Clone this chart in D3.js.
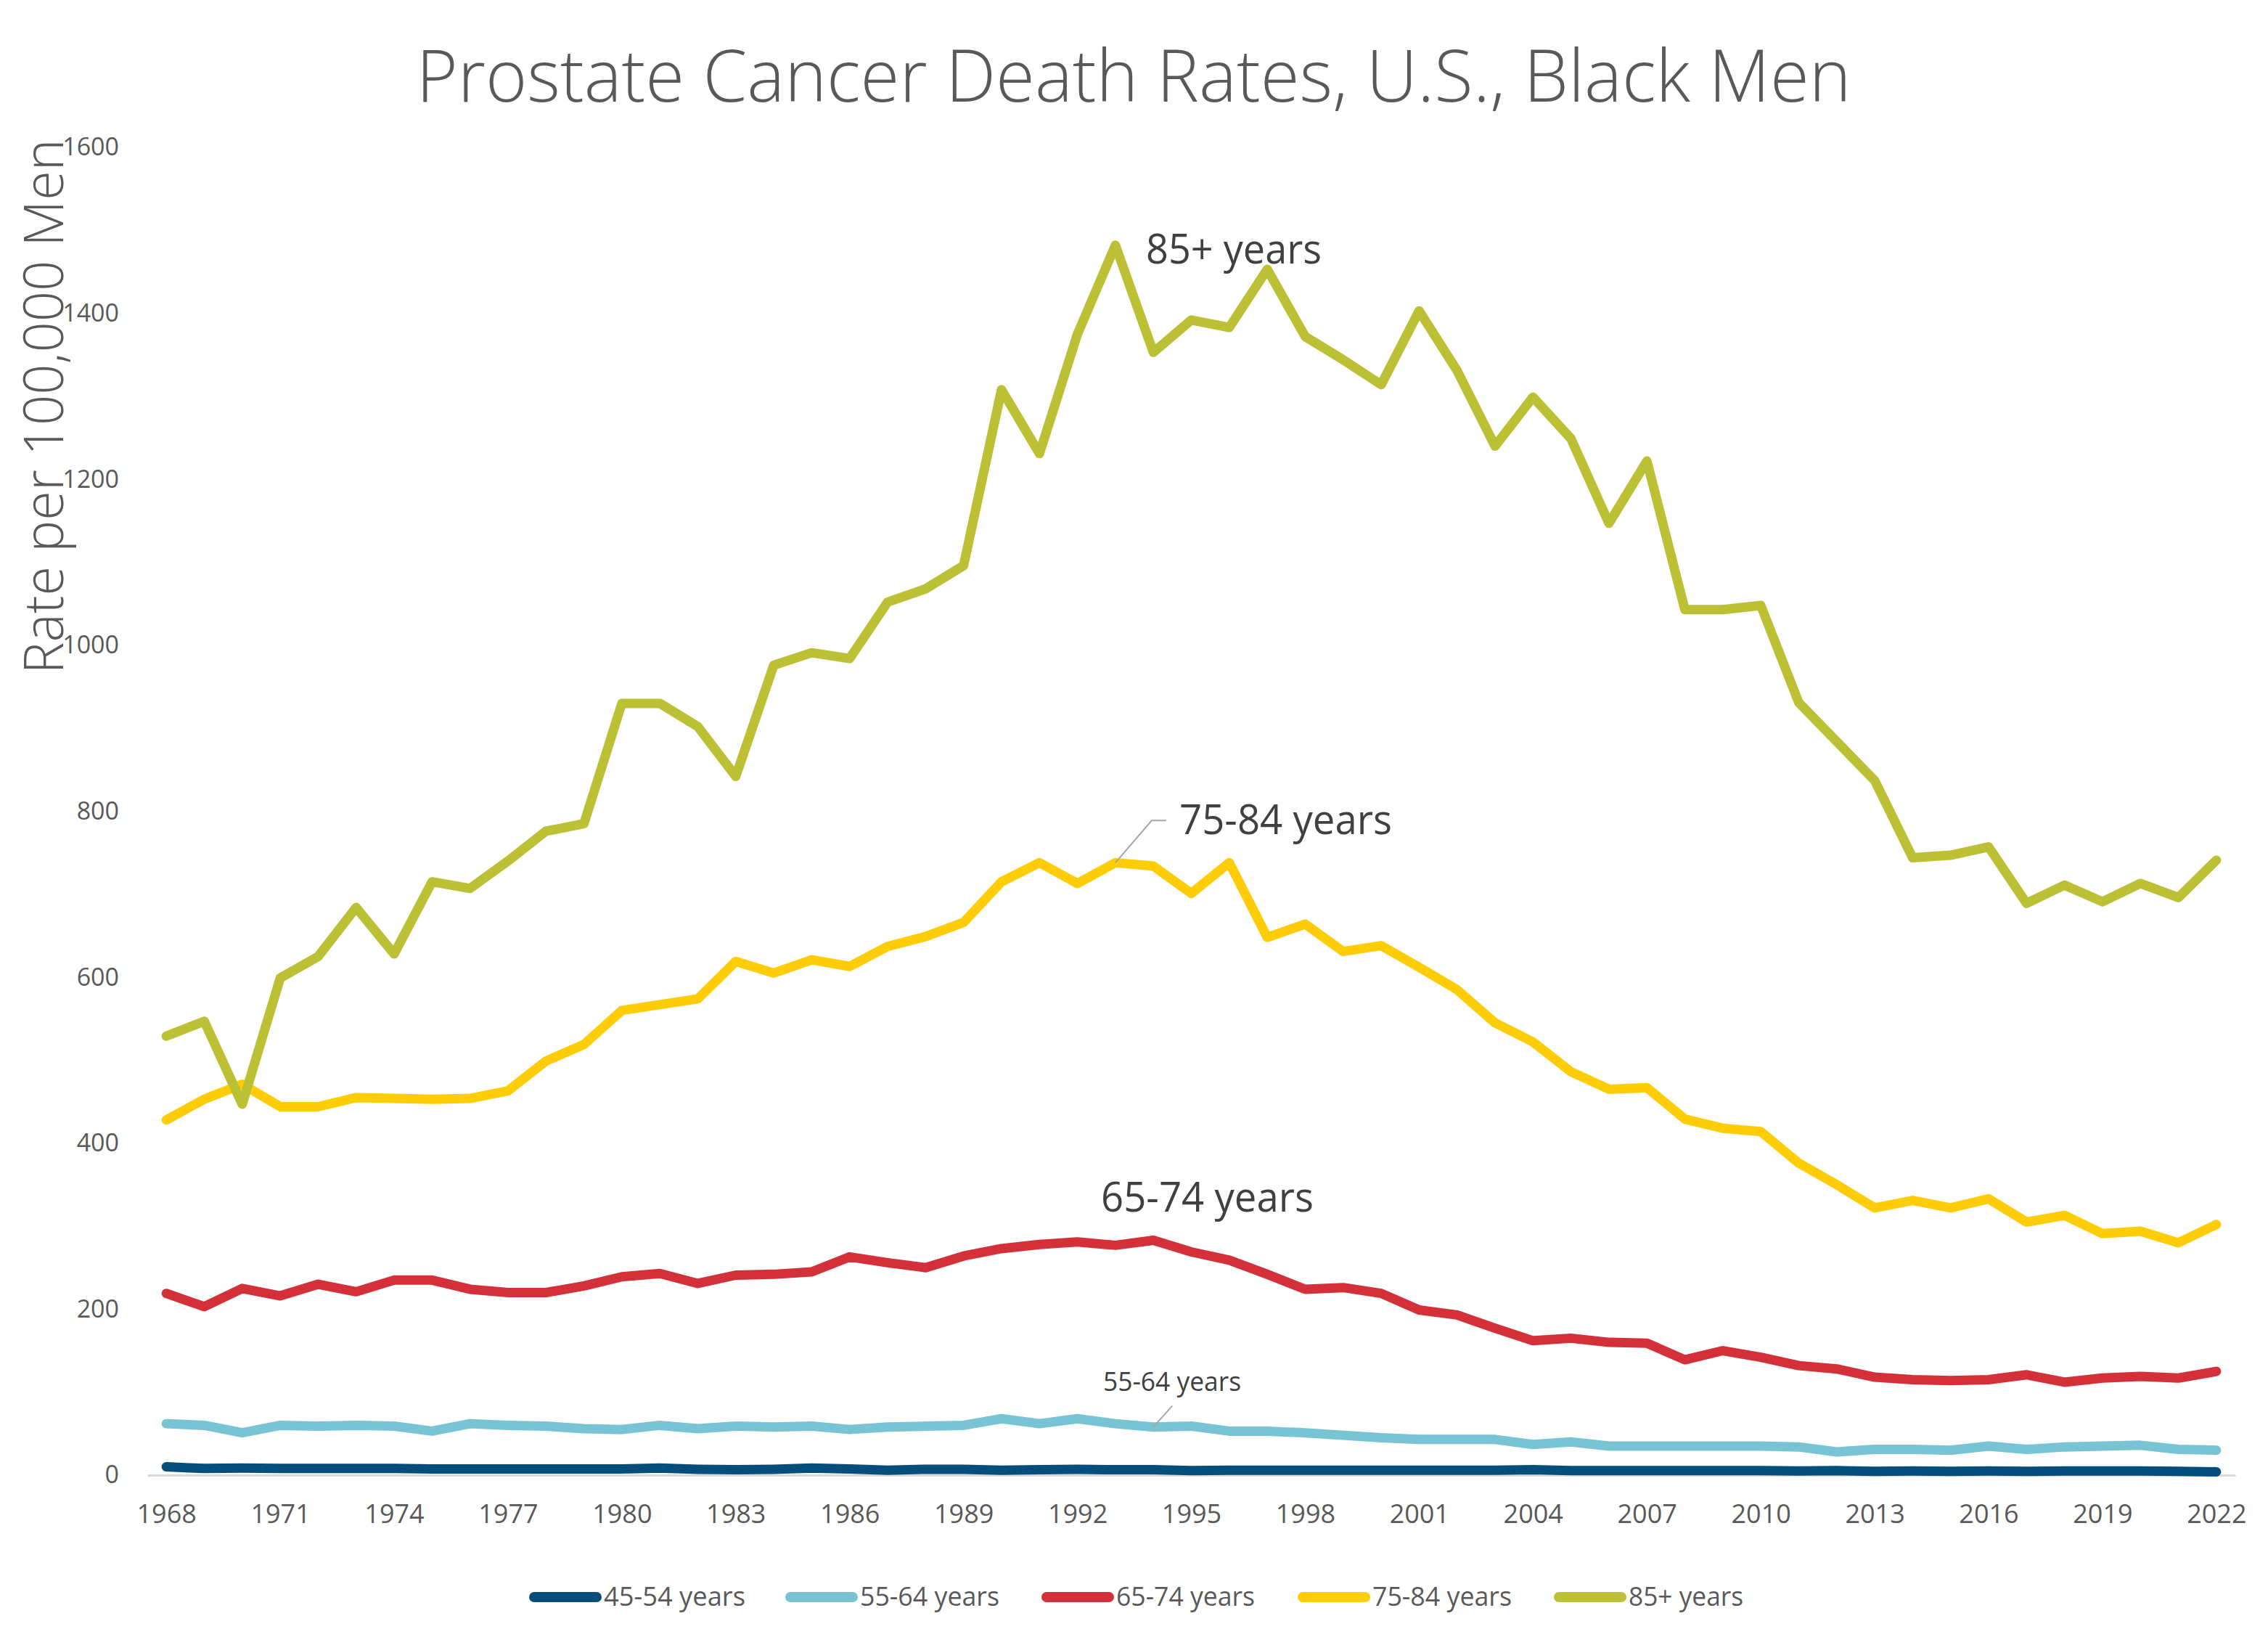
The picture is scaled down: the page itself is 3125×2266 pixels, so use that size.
<!DOCTYPE html>
<html><head><meta charset="utf-8">
<script src="https://cdn.jsdelivr.net/npm/d3@7"></script>
<style>
body{margin:0;background:#fff}
svg{display:block;font-family:"Open Sans","Noto Sans",sans-serif}
</style>
</head><body>
<svg id="chart" width="3125" height="2266"></svg>
<script>
// ---------- DATA ----------
const years = [1968,1969,1970,1971,1972,1973,1974,1975,1976,1977,1978,1979,
  1980,1981,1982,1983,1984,1985,1986,1987,1988,1989,
  1990,1991,1992,1993,1994,1995,1996,1997,1998,1999,
  2000,2001,2002,2003,2004,2005,2006,2007,2008,2009,
  2010,2011,2012,2013,2014,2015,2016,2017,2018,2019,
  2020,2021,2022];
const seriesNames = ["45-54 years","55-64 years","65-74 years","75-84 years","85+ years"];
const age45_54 = [10,8,8.5,8,8,8,8,7.5,7.5,7.5,7.5,7.5,
  7.5,8.5,7,6.5,7,8.5,7.5,6,7,7,
  6,6.5,7,6.5,6.5,5.5,6,6,6,6,
  6,6,6,6,6.5,5.5,5.5,5.5,5.5,5.5,
  5.5,5,5.5,4.5,5,4.5,5,4.5,5,5,
  5,4.5,4];
const age55_64 = [62,60,51,60,59,60,59,53,62,60,59,56,
  55,60,56,59,58,59,55,58,59,60,
  68,62,68,62,58,59,53,53,51,48,
  45,43,43,43,37,40,35,35,35,35,
  35,34,28,31,31,30,35,31,34,35,
  36,31,30];
const age65_74 = [219,203,225,216,230,221,235,235,224,220,220,228,
  239,243,231,241,242,245,263,256,250,264,
  273,278,281,277,283,269,259,242,224,226,
  219,199,193,177,162,165,160,159,139,150,
  142,132,128,118,115,114,115,121,112,117,
  119,117,125];
const age75_84 = [428,453,471,444,444,455,454,453,454,463,499,519,
  560,567,574,619,605,621,613,637,649,666,
  715,738,713,738,734,701,738,648,664,631,
  638,612,585,545,522,486,465,467,429,418,
  414,376,350,322,331,322,333,305,313,291,
  294,280,302];
const age85plus = [529,547,447,599,625,684,628,715,707,740,776,785,
  930,930,902,842,976,991,984,1052,1068,1096,
  1308,1231,1375,1482,1353,1392,1383,1453,1372,1344,
  1314,1403,1331,1240,1299,1249,1147,1222,1043,1043,
  1048,931,884,837,744,747,757,689,711,691,
  713,696,741];
const yTicks = [0,200,400,600,800,1000,1200,1400,1600];
const xTickYears = [1968,1971,1974,1977,1980,1983,1986,1989,1992,1995,1998,2001,2004,2007,2010,2013,2016,2019,2022];
const colors = ["#054E7B","#78C4D5","#D4303A","#FECD08","#BCC034"];
const titleText = "Prostate Cancer Death Rates, U.S., Black Men";
const yLabelText = "Rate per 100,000 Men";

// ---------- CHART ----------
const svg = d3.select("#chart");
const x = d3.scalePoint().domain(years).range([203, 3080]).padding(0.5);
const y = d3.scaleLinear().domain([0, 1600]).range([2032, 203]);
const allSeries = [age45_54, age55_64, age65_74, age75_84, age85plus];

function fit(sel, w){ sel.attr("textLength", w).attr("lengthAdjust", "spacingAndGlyphs"); return sel; }

// title
fit(svg.append("text").attr("x", 1562).attr("y", 140).attr("text-anchor","middle")
  .attr("font-size", 100).attr("font-weight", 300).attr("fill","#595959").text(titleText), 1977);

// y label
fit(svg.append("text").attr("transform","translate(87,560) rotate(-90)").attr("text-anchor","middle")
  .attr("font-size", 75).attr("font-weight", 300).attr("fill","#595959").text(yLabelText), 737);

// y axis
const gy = svg.append("g").attr("transform","translate(175,0)")
  .call(d3.axisLeft(y).tickValues(yTicks).tickSize(0).tickPadding(11).tickFormat(d3.format("d")));
gy.select(".domain").remove();
gy.selectAll("text").attr("font-size", 34).attr("fill","#595959").attr("font-family","'Open Sans',sans-serif");

// x axis
const gx = svg.append("g").attr("transform","translate(0,2032)")
  .call(d3.axisBottom(x).tickValues(xTickYears).tickSize(0).tickPadding(40));
gx.select(".domain").attr("stroke","#d9d9d9").attr("stroke-width",3);
gx.selectAll("text").attr("font-size", 36).attr("fill","#595959").attr("font-family","'Open Sans',sans-serif");

// lines
const line = d3.line().x((d,i) => x(years[i])).y(d => y(d));
allSeries.forEach((s, k) => {
  svg.append("path").datum(s).attr("d", line)
    .attr("fill","none").attr("stroke", colors[k]).attr("stroke-width", 13)
    .attr("stroke-linecap","round").attr("stroke-linejoin","round");
});

// annotations
const annColor = "#404040";
fit(svg.append("text").attr("x",1579).attr("y",363).attr("font-size",56).attr("fill",annColor).text("85+ years"), 242);
fit(svg.append("text").attr("x",1625).attr("y",1149).attr("font-size",56).attr("fill",annColor).text("75-84 years"), 293);
fit(svg.append("text").attr("x",1517).attr("y",1669).attr("font-size",56).attr("fill",annColor).text("65-74 years"), 293);
fit(svg.append("text").attr("x",1520).attr("y",1916).attr("font-size",36).attr("fill",annColor).text("55-64 years"), 190);

// leader lines anchored to data points
const i93 = years.indexOf(1993), i94 = years.indexOf(1994);
const p1 = [x(1993), y(age75_84[i93])];
svg.append("path").attr("d", `M${p1[0]},${p1[1]} L${p1[0]+50},${p1[1]-58} L${p1[0]+70},${p1[1]-58}`)
  .attr("fill","none").attr("stroke","#a6a6a6").attr("stroke-width",2);
const p2 = [x(1994), y(age55_64[i94])];
svg.append("path").attr("d", `M${p2[0]},${p2[1]} L${p2[0]+26},${p2[1]-29}`)
  .attr("fill","none").attr("stroke","#a6a6a6").attr("stroke-width",2);

// legend
const legendWidths = [195,192,191,192,158];
seriesNames.forEach((name, k) => {
  const x0 = 729 + k*353;
  svg.append("line").attr("x1", x0+7).attr("x2", x0+93).attr("y1", 2200).attr("y2", 2200)
    .attr("stroke", colors[k]).attr("stroke-width", 14).attr("stroke-linecap","round");
  fit(svg.append("text").attr("x", x0+103).attr("y", 2212).attr("font-size", 36)
    .attr("fill","#595959").text(name), legendWidths[k]);
});
</script>
</body></html>
